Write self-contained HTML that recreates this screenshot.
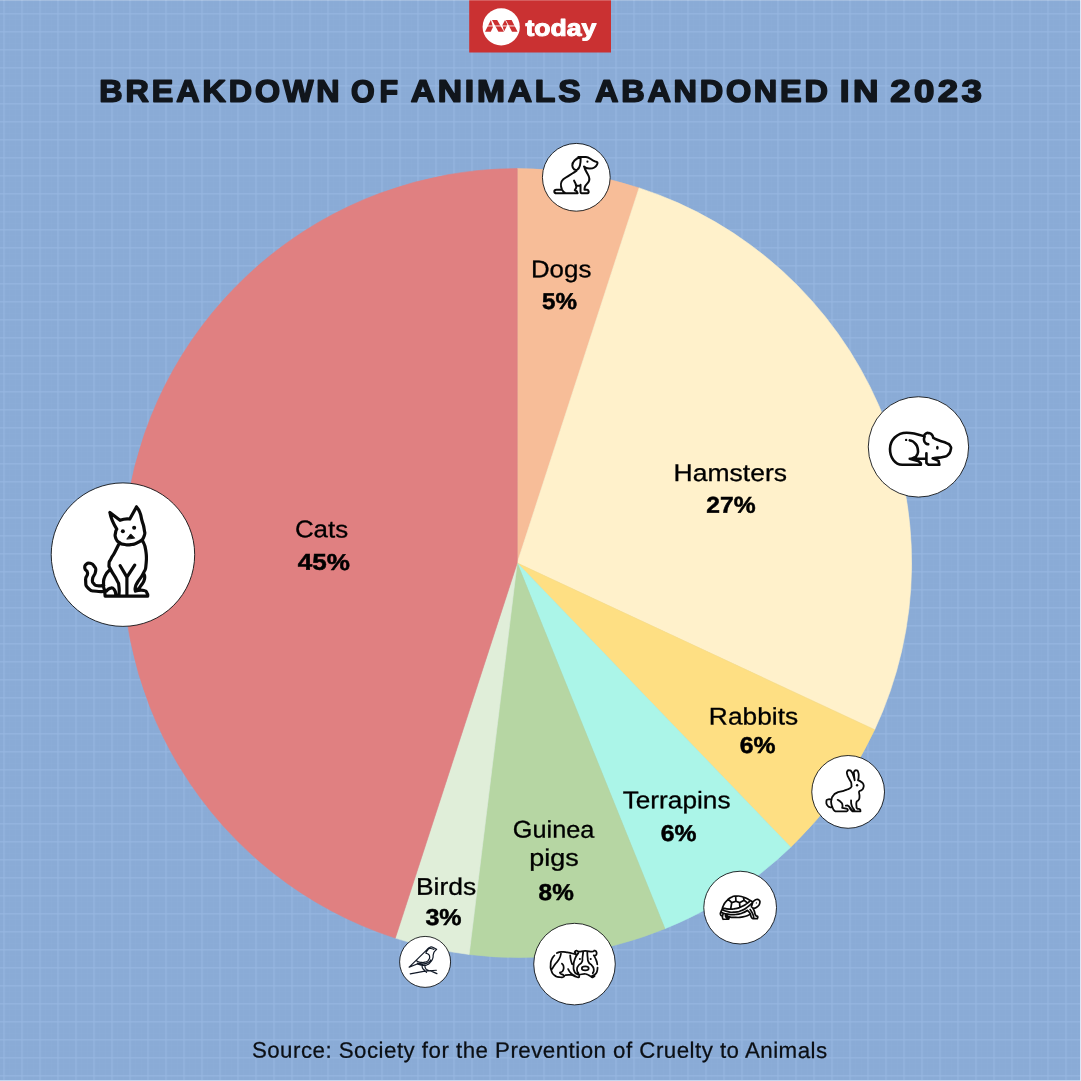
<!DOCTYPE html>
<html lang="en">
<head>
<meta charset="utf-8">
<title>Breakdown of animals abandoned in 2023</title>
<style>
html,body{margin:0;padding:0;background:#8aabd6;}
body{width:1081px;height:1081px;overflow:hidden;position:relative;font-family:"Liberation Sans",sans-serif;}
svg{position:absolute;left:0;top:0;display:block}
text{font-family:"Liberation Sans",sans-serif;fill:#000;text-rendering:geometricPrecision}
.lbl{font-size:24px;stroke:#000;stroke-width:0.3px}
.pct{font-size:23px;font-weight:bold;stroke:#000;stroke-width:0.5px;}
.title{font-size:31.2px;font-weight:bold;fill:#11161c;stroke:#11161c;stroke-width:1.6px;stroke-linejoin:round}
.src{font-size:22.3px;fill:#0b0f14;stroke:#0b0f14;stroke-width:0.25px}
.ic{fill:#fff;stroke:#05070a;stroke-width:0.85}
</style>
</head>
<body>
<svg width="1081" height="1081" viewBox="0 0 1081 1081">
<defs>
<pattern id="grid" x="3.2" y="-5" width="18" height="18" patternUnits="userSpaceOnUse">
<rect width="18" height="18" fill="#8aabd6"/>
<rect x="6.3" y="0" width="0.8" height="18" fill="#8cadd8"/>
<rect x="12.3" y="0" width="0.8" height="18" fill="#8cadd8"/>
<rect x="0" y="6.3" width="18" height="0.8" fill="#8cadd8"/>
<rect x="0" y="12.3" width="18" height="0.8" fill="#8cadd8"/>
<rect x="0" y="0" width="1.6" height="18" fill="#93b3de"/>
<rect x="0" y="0" width="18" height="1.6" fill="#93b3de"/>
<rect x="0" y="0" width="1.6" height="1.6" fill="#96b6e0"/>
</pattern>
</defs>
<rect width="1081" height="1081" fill="url(#grid)"/>
<rect x="0" y="1080" width="1081" height="1" fill="#c4d7f0"/>
<rect x="1080" y="0" width="1" height="1081" fill="#dde8f7"/>
<!-- logo -->
<rect x="469.2" y="0" width="141.8" height="52.5" fill="#ca3132"/>
<circle cx="501.2" cy="26.9" r="18.6" fill="#fff"/>
<polygon points="485.02,31.66 490.77,31.66 492.98,26.98 490.89,20.09" fill="#cb2f30"/>
<polygon points="491.96,19.96 497.15,19.96 503.96,31.66 498.43,31.66" fill="#cb2f30"/>
<polygon points="502.34,25.28 505.06,20.09 507.45,24.85 504.13,31.23" fill="#cb2f30"/>
<polygon points="505.87,19.96 511.62,19.96 517.57,31.66 512.04,31.66" fill="#cb2f30"/>
<rect x="484" y="25.11" width="35" height="1.62" fill="#fff" opacity="0.55"/>
<g transform="matrix(1 0.0005 0 1 0 -0.28)"><text x="525.4" y="35.7" style="font-size:23.2px;font-weight:bold;fill:#fff;stroke:#fff;stroke-width:1px;stroke-linejoin:round" textLength="71" lengthAdjust="spacingAndGlyphs">today</text></g>
<g transform="matrix(1 0.0005 0 1 0 -0.1097)"><text class="title" transform="translate(99.16 101.7) scale(1.034 1)" textLength="232.58" lengthAdjust="spacing">BREAKDOWN</text></g>
<g transform="matrix(1 0.0005 0 1 0 -0.1873)"><text class="title" transform="translate(350.95 101.7) scale(0.974 1)" textLength="48.44" lengthAdjust="spacing">OF</text></g>
<g transform="matrix(1 0.0005 0 1 0 -0.2477)"><text class="title" transform="translate(410.67 101.7) scale(1.078 1)" textLength="157.67" lengthAdjust="spacing">ANIMALS</text></g>
<g transform="matrix(1 0.0005 0 1 0 -0.3556)"><text class="title" transform="translate(595.12 101.7) scale(1.04 1)" textLength="223.77" lengthAdjust="spacing">ABANDONED</text></g>
<g transform="matrix(1 0.0005 0 1 0 -0.4295)"><text class="title" transform="translate(839.70 101.7) scale(1.13 1)" textLength="34.25" lengthAdjust="spacing">IN</text></g>
<g transform="matrix(1 0.0005 0 1 0 -0.4680)"><text class="title" transform="translate(890.27 101.7) scale(1.175 1)" textLength="77.95" lengthAdjust="spacing">2023</text></g>

<!-- pie -->
<path d="M517.2 563.0L517.20 168.60A394.4 394.4 0 0 1 639.08 187.90Z" fill="#f7bd98" stroke="#f7bd98" stroke-width="0.6"/>
<path d="M517.2 563.0L639.08 187.90A394.4 394.4 0 0 1 874.65 729.68Z" fill="#fff1cb" stroke="#fff1cb" stroke-width="0.6"/>
<path d="M517.2 563.0L874.65 729.68A394.4 394.4 0 0 1 790.68 847.19Z" fill="#fedf83" stroke="#fedf83" stroke-width="0.6"/>
<path d="M517.2 563.0L790.68 847.19A394.4 394.4 0 0 1 664.94 928.68Z" fill="#abf5e8" stroke="#abf5e8" stroke-width="0.6"/>
<path d="M517.2 563.0L664.94 928.68A394.4 394.4 0 0 1 469.13 954.46Z" fill="#b6d6a3" stroke="#b6d6a3" stroke-width="0.6"/>
<path d="M517.2 563.0L469.13 954.46A394.4 394.4 0 0 1 395.32 938.10Z" fill="#e0eed9" stroke="#e0eed9" stroke-width="0.6"/>
<path d="M517.2 563.0L395.32 938.10A394.4 394.4 0 0 1 517.20 168.60Z" fill="#e08081" stroke="#e08081" stroke-width="0.6"/>
<!-- labels -->
<g transform="matrix(1 0.0005 0 1 0 -0.2808)"><text class="lbl" x="530.91" y="277.32" textLength="60.48" lengthAdjust="spacingAndGlyphs">Dogs</text></g>
<g transform="matrix(1 0.0005 0 1 0 -0.2798)"><text class="pct" x="542.02" y="309.09" textLength="34.96" lengthAdjust="spacingAndGlyphs">5%</text></g>
<g transform="matrix(1 0.0005 0 1 0 -0.3654)"><text class="lbl" x="673.64" y="480.94" textLength="113.41" lengthAdjust="spacingAndGlyphs">Hamsters</text></g>
<g transform="matrix(1 0.0005 0 1 0 -0.3655)"><text class="pct" x="706.29" y="512.87" textLength="49.35" lengthAdjust="spacingAndGlyphs">27%</text></g>
<g transform="matrix(1 0.0005 0 1 0 -0.3770)"><text class="lbl" x="708.88" y="724.42" textLength="89.27" lengthAdjust="spacingAndGlyphs">Rabbits</text></g>
<g transform="matrix(1 0.0005 0 1 0 -0.3788)"><text class="pct" x="739.68" y="752.95" textLength="35.83" lengthAdjust="spacingAndGlyphs">6%</text></g>
<g transform="matrix(1 0.0005 0 1 0 -0.3382)"><text class="lbl" x="622.65" y="808.31" textLength="107.93" lengthAdjust="spacingAndGlyphs">Terrapins</text></g>
<g transform="matrix(1 0.0005 0 1 0 -0.3394)"><text class="pct" x="660.81" y="840.92" textLength="35.78" lengthAdjust="spacingAndGlyphs">6%</text></g>
<g transform="matrix(1 0.0005 0 1 0 -0.2768)"><text class="lbl" x="512.85" y="837.64" textLength="81.47" lengthAdjust="spacingAndGlyphs">Guinea</text></g>
<g transform="matrix(1 0.0005 0 1 0 -0.2772)"><text class="lbl" x="529.29" y="865.68" textLength="49.55" lengthAdjust="spacingAndGlyphs">pigs</text></g>
<g transform="matrix(1 0.0005 0 1 0 -0.2782)"><text class="pct" x="538.64" y="899.91" textLength="35.12" lengthAdjust="spacingAndGlyphs">8%</text></g>
<g transform="matrix(1 0.0005 0 1 0 -0.2233)"><text class="lbl" x="415.96" y="894.65" textLength="60.30" lengthAdjust="spacingAndGlyphs">Birds</text></g>
<g transform="matrix(1 0.0005 0 1 0 -0.2217)"><text class="pct" x="425.42" y="925.09" textLength="36.20" lengthAdjust="spacingAndGlyphs">3%</text></g>
<g transform="matrix(1 0.0005 0 1 0 -0.1609)"><text class="lbl" x="294.90" y="537.39" textLength="53.27" lengthAdjust="spacingAndGlyphs">Cats</text></g>
<g transform="matrix(1 0.0005 0 1 0 -0.1618)"><text class="pct" x="297.72" y="569.88" textLength="52.19" lengthAdjust="spacingAndGlyphs">45%</text></g>
<!-- icon circles -->
<circle class="ic" cx="576.3" cy="177.3" r="33.88"/>
<circle class="ic" cx="918.45" cy="446.9" r="50.18"/>
<circle class="ic" cx="848.15" cy="791.9" r="36.38"/>
<circle class="ic" cx="740.15" cy="907.6" r="36.38"/>
<circle class="ic" cx="574.5" cy="964.1" r="40.78"/>
<circle class="ic" cx="425.1" cy="961.9" r="25.48"/>
<circle class="ic" cx="122.95" cy="554.65" r="71.73"/>
<g transform="translate(540 142) scale(0.06662)" fill="none" stroke="#0a0a0a" stroke-width="30.0" stroke-linecap="round" stroke-linejoin="round"><path d="M575 225L690 225C740 225 770 275 830 292C860 298 872 310 858 335C835 385 790 400 740 398C700 396 675 385 660 368M600 228C540 245 480 300 485 355C490 410 530 430 560 415C600 390 612 330 610 235M665 375C675 420 690 440 715 480C745 530 750 570 725 605C705 635 680 645 672 680C668 700 668 715 668 718L710 718C735 718 738 770 715 770L625 770C610 770 608 755 608 740L608 640M548 656L608 656M512 580C530 610 545 640 545 670C545 700 520 715 522 725C540 730 560 745 565 770M548 432C500 470 400 520 350 560C310 595 305 660 330 715C345 745 365 765 385 770L565 770M330 715L245 715C205 715 205 770 245 770L385 770"/><circle cx="712" cy="295" r="16" fill="#0a0a0a" stroke="none"/></g>
<g transform="translate(880 412) scale(0.07401)" fill="none" stroke="#0a0a0a" stroke-width="35.1" stroke-linecap="round" stroke-linejoin="round"><path d="M552 712L300 712C200 712 135 612 135 500C135 380 230 280 360 280C440 280 520 303 592 326M590.0 325.0C600.0 314.0 596.7 305.3 620.0 292.0C643.3 278.7 633.3 280.7 660.0 285.0C686.7 289.3 680.0 283.3 700.0 305.0C720.0 326.7 713.3 335.0 720.0 350.0M603.0 330.0C600.3 346.7 590.0 349.3 595.0 380.0C600.0 410.7 599.0 403.3 618.0 422.0C637.0 440.7 640.7 431.3 652.0 436.0M720.0 350.0C746.7 361.7 740.0 361.7 800.0 385.0C860.0 408.3 850.7 395.7 900.0 420.0C949.3 444.3 929.7 428.0 948.0 458.0C966.3 488.0 964.3 470.0 955.0 510.0C945.7 550.0 955.0 545.3 920.0 578.0C885.0 610.7 903.3 594.0 850.0 608.0C796.7 622.0 806.0 613.7 760.0 620.0C714.0 626.3 728.0 624.7 712.0 627.0M712.0 627.0L790.0 660.0L802.0 712.0L655.0 712.0L627.0 690.0L627.0 557.0M402.0 383.0C424.7 395.3 434.0 381.0 470.0 420.0C506.0 459.0 500.0 446.7 510.0 500.0C520.0 553.3 519.3 540.0 500.0 580.0C480.7 620.0 484.7 602.7 452.0 620.0C419.3 637.3 418.7 628.0 402.0 632.0M402.0 632.0L627.0 632.0M402.0 632.0L522.0 665.0L552.0 692.0L552.0 712.0"/><circle cx="353" cy="377" r="16" fill="#0a0a0a" stroke="none"/><ellipse cx="775" cy="483" rx="18" ry="26" fill="#0a0a0a" stroke="none"/></g>
<g transform="translate(815 758) scale(0.06013)" fill="none" stroke="#0a0a0a" stroke-width="29.9" stroke-linecap="round" stroke-linejoin="round"><path d="M600.0 400.0C586.7 376.7 581.7 373.3 560.0 330.0C538.3 286.7 542.7 306.7 535.0 270.0C527.3 233.3 524.7 241.7 537.0 220.0C549.3 198.3 547.7 201.0 572.0 205.0C596.3 209.0 587.3 200.3 610.0 232.0C632.7 263.7 623.3 254.0 640.0 300.0C656.7 346.0 653.3 346.7 660.0 370.0M660.0 370.0C656.7 340.0 652.7 328.3 650.0 280.0C647.3 231.7 638.7 250.0 652.0 225.0C665.3 200.0 667.3 200.0 690.0 205.0C712.7 210.0 708.0 205.0 720.0 240.0C732.0 275.0 727.7 266.7 726.0 310.0C724.3 353.3 718.7 350.0 715.0 370.0M715.0 370.0C733.3 380.0 740.0 376.7 770.0 400.0C800.0 423.3 793.3 410.0 805.0 440.0C816.7 470.0 813.3 460.0 805.0 490.0C796.7 520.0 801.7 510.0 780.0 530.0C758.3 550.0 756.0 533.3 740.0 550.0C724.0 566.7 734.7 570.0 732.0 580.0M600.0 400.0C602.0 416.7 607.7 419.3 606.0 450.0C604.3 480.7 623.7 465.3 595.0 492.0C566.3 518.7 571.7 509.0 520.0 530.0C468.3 551.0 493.3 538.3 440.0 555.0C386.7 571.7 406.7 555.0 360.0 580.0C313.3 605.0 328.3 593.3 300.0 630.0C271.7 666.7 285.0 650.0 275.0 690.0C265.0 730.0 265.0 706.7 270.0 750.0C275.0 793.3 274.0 779.3 290.0 820.0C306.0 860.7 300.7 850.0 318.0 872.0C335.3 894.0 334.0 881.3 342.0 886.0M342.0 886.0L528.0 886.0M528.0 886.0C534.0 879.3 548.0 880.7 546.0 866.0C544.0 851.3 553.3 854.0 522.0 842.0C490.7 830.0 475.3 834.0 452.0 830.0M452.0 830.0C453.3 813.3 463.3 812.7 456.0 780.0C448.7 747.3 456.3 760.0 430.0 732.0C403.7 704.0 394.7 708.0 377.0 696.0M270.0 690.0C250.7 690.0 238.7 679.3 212.0 690.0C185.3 700.7 194.0 692.0 190.0 722.0C186.0 752.0 183.3 749.3 200.0 780.0C216.7 810.7 212.0 800.7 240.0 814.0C268.0 827.3 269.3 818.0 284.0 820.0M732.0 580.0C734.7 603.3 743.3 610.0 740.0 650.0C736.7 690.0 738.0 673.3 722.0 700.0C706.0 726.7 702.7 696.7 692.0 730.0C681.3 763.3 686.7 763.3 690.0 800.0C693.3 836.7 683.7 822.7 702.0 840.0C720.3 857.3 727.0 836.7 745.0 852.0C763.0 867.3 752.3 874.7 756.0 886.0M756.0 886.0L622.0 886.0M622.0 886.0C611.3 874.0 610.7 878.7 590.0 850.0C569.3 821.3 586.0 819.3 560.0 800.0C534.0 780.7 528.0 794.7 512.0 792.0M600.0 705.0C603.3 733.3 593.3 738.3 610.0 790.0C626.7 841.7 632.7 828.7 650.0 860.0C667.3 891.3 658.0 876.0 662.0 884.0M560.0 800.0C573.3 816.7 576.7 822.0 600.0 850.0C623.3 878.0 620.0 872.7 630.0 884.0"/><circle cx="700" cy="452" r="20" fill="#0a0a0a" stroke="none"/></g>
<g transform="translate(708 875) scale(0.06013)" fill="none" stroke="#0a0a0a" stroke-width="28.3" stroke-linecap="round" stroke-linejoin="round"><path d="M235.0 572.0C243.3 548.0 231.7 550.7 260.0 500.0C288.3 449.3 273.3 464.7 320.0 420.0C366.7 375.3 346.7 389.3 400.0 366.0C453.3 342.7 420.0 350.3 480.0 350.0C540.0 349.7 513.3 345.0 580.0 365.0C646.7 385.0 625.0 381.7 680.0 410.0C735.0 438.3 723.3 436.7 745.0 450.0M235.0 577.0C266.7 588.0 258.3 597.0 330.0 610.0C401.7 623.0 373.3 622.7 450.0 616.0C526.7 609.3 490.0 618.7 560.0 590.0C630.0 561.3 598.3 576.0 660.0 530.0C721.7 484.0 716.7 478.0 745.0 452.0M220.0 622.0C256.7 632.0 250.0 640.3 330.0 652.0C410.0 663.7 380.0 663.7 460.0 657.0C540.0 650.3 506.0 654.3 570.0 632.0C634.0 609.7 624.7 604.0 652.0 590.0M235.0 572.0C228.3 585.3 224.3 584.3 215.0 612.0C205.7 639.7 201.3 631.7 207.0 655.0C212.7 678.3 223.7 673.0 232.0 682.0M252.0 550.0C284.7 555.3 284.0 562.7 350.0 566.0C416.0 569.3 383.3 572.0 450.0 560.0C516.7 548.0 486.7 556.7 550.0 530.0C613.3 503.3 590.0 513.3 640.0 480.0C690.0 446.7 680.0 446.7 700.0 430.0M395.0 460.0L465.0 436.0L525.0 460.0L530.0 535.0M395.0 460.0L378.0 560.0M465.0 436.0L460.0 358.0M395.0 460.0L357.0 422.0L330.0 416.0M525.0 460.0L600.0 420.0L590.0 380.0M600.0 420.0L650.0 460.0M745.0 450.0C756.7 440.0 755.0 435.0 780.0 420.0C805.0 405.0 795.0 403.3 820.0 405.0C845.0 406.7 841.7 403.3 855.0 425.0C868.3 446.7 868.3 438.3 860.0 470.0C851.7 501.7 856.7 493.3 830.0 520.0C803.3 546.7 809.3 541.3 780.0 550.0C750.7 558.7 754.7 547.3 742.0 546.0M745.0 455.0L722.0 530.0M660.0 592.0C673.3 608.0 680.0 604.0 700.0 640.0C720.0 676.0 703.3 671.3 720.0 700.0C736.7 728.7 740.0 717.3 750.0 726.0M750.0 726.0L820.0 726.0M820.0 726.0C822.0 714.0 835.3 708.7 826.0 690.0C816.7 671.3 810.7 700.0 792.0 670.0C773.3 640.0 785.7 640.0 770.0 600.0C754.3 560.0 753.3 566.7 745.0 550.0M700.0 572.0C713.3 594.7 720.0 597.3 740.0 640.0C760.0 682.7 753.3 680.0 760.0 700.0M250.0 650.0C246.7 666.7 239.3 671.3 240.0 700.0C240.7 728.7 248.0 724.0 252.0 736.0M252.0 736.0L340.0 736.0M340.0 736.0C341.7 729.3 358.3 728.0 345.0 716.0C331.7 704.0 318.3 721.3 300.0 700.0C281.7 678.7 293.3 668.0 290.0 652.0M312.0 662.0C324.7 673.0 300.7 680.3 350.0 695.0C399.3 709.7 383.3 705.7 460.0 706.0C536.7 706.3 503.3 710.7 580.0 696.0C656.7 681.3 653.3 673.3 690.0 662.0"/><circle cx="805" cy="465" r="11" fill="#0a0a0a" stroke="none"/></g>
<g transform="translate(538 928) scale(0.06846)" fill="none" stroke="#0a0a0a" stroke-width="25.6" stroke-linecap="round" stroke-linejoin="round"><path d="M240.0 400.0C226.7 420.0 218.3 413.3 200.0 460.0C181.7 506.7 186.7 486.7 185.0 540.0C183.3 593.3 176.7 570.0 195.0 620.0C213.3 670.0 201.7 658.0 240.0 690.0C278.3 722.0 266.7 707.3 310.0 716.0C353.3 724.7 340.0 724.7 370.0 716.0C400.0 707.3 363.3 700.0 400.0 690.0C436.7 680.0 433.3 680.7 480.0 686.0C526.7 691.3 503.3 694.7 540.0 706.0C576.7 717.3 569.3 722.0 590.0 720.0C610.7 718.0 598.0 706.7 602.0 700.0M275.0 365.0C296.7 360.0 288.3 353.3 340.0 350.0C391.7 346.7 366.7 345.0 430.0 355.0C493.3 365.0 496.7 371.7 530.0 380.0M335.0 375.0C326.7 400.0 338.3 398.3 310.0 450.0C281.7 501.7 285.0 480.0 250.0 530.0C215.0 580.0 220.0 576.7 205.0 600.0M470.0 400.0C473.3 423.3 470.0 426.7 480.0 470.0C490.0 513.3 493.3 510.0 500.0 530.0M535.0 352.0C543.3 344.7 538.3 332.3 560.0 330.0C581.7 327.7 556.7 343.3 600.0 345.0C643.3 346.7 626.7 335.0 690.0 335.0C753.3 335.0 743.3 346.7 790.0 345.0C836.7 343.3 808.0 325.0 830.0 330.0C852.0 335.0 850.7 338.0 856.0 360.0C861.3 382.0 859.7 382.7 846.0 396.0C832.3 409.3 825.3 398.7 815.0 400.0M545.0 355.0C550.0 368.3 545.0 391.7 560.0 395.0C575.0 398.3 580.0 375.0 590.0 365.0M590.0 365.0C573.3 393.3 563.3 388.3 540.0 450.0C516.7 511.7 523.3 490.0 520.0 550.0C516.7 610.0 516.0 590.0 530.0 630.0C544.0 670.0 551.3 656.7 562.0 670.0M815.0 400.0C826.7 423.3 833.0 426.7 850.0 470.0C867.0 513.3 860.7 510.0 866.0 530.0M870.0 580.0C866.7 600.0 873.3 606.0 860.0 640.0C846.7 674.0 850.0 655.3 830.0 682.0C810.0 708.7 823.3 714.0 800.0 720.0C776.7 726.0 786.7 713.3 760.0 700.0C733.3 686.7 746.7 690.0 720.0 680.0C693.3 670.0 720.0 670.0 680.0 670.0C640.0 670.0 636.7 681.3 600.0 680.0C563.3 678.7 580.0 670.7 570.0 666.0M660.0 350.0C656.7 376.7 656.7 380.0 650.0 430.0C643.3 480.0 660.0 460.0 640.0 500.0C620.0 540.0 613.3 513.3 590.0 550.0C566.7 586.7 570.0 573.3 570.0 610.0C570.0 646.7 583.3 643.3 590.0 660.0M720.0 350.0C721.7 376.7 718.3 380.0 725.0 430.0C731.7 480.0 718.3 460.0 740.0 500.0C761.7 540.0 765.0 513.3 790.0 550.0C815.0 586.7 811.7 573.3 815.0 610.0C818.3 646.7 805.0 643.3 800.0 660.0M640 590A50 28 0 1 0 740 590A50 28 0 1 0 640 590M350.0 520.0C358.3 536.7 371.7 533.3 375.0 570.0C378.3 606.7 378.3 601.3 360.0 630.0C341.7 658.7 316.7 637.3 320.0 656.0C323.3 674.7 353.3 676.0 370.0 686.0M440.0 600.0C453.3 620.0 446.7 626.7 480.0 660.0C513.3 693.3 520.0 686.7 540.0 700.0M790.0 700.0C798.3 696.7 803.3 688.3 815.0 690.0C826.7 691.7 821.7 700.0 825.0 705.0"/><circle cx="612" cy="452" r="15" fill="#0a0a0a" stroke="none"/><circle cx="770" cy="452" r="15" fill="#0a0a0a" stroke="none"/></g>
<g transform="translate(397 934) scale(0.05181)" fill="none" stroke="#101826" stroke-width="23.2" stroke-linecap="round" stroke-linejoin="round"><path d="M235.0 640.0C300.0 576.0 483.0 394.6 560.0 320.0C637.0 245.4 600.0 281.0 620.0 267.0C640.0 253.0 642.0 250.4 660.0 250.0C678.0 249.6 689.0 256.0 710.0 265.0C731.0 274.0 754.0 289.0 765.0 295.0M765.0 295.0C756.7 304.0 755.0 306.3 740.0 322.0C725.0 337.7 733.3 316.0 720.0 342.0C706.7 368.0 710.0 357.3 700.0 400.0C690.0 442.7 706.7 423.3 690.0 470.0C673.3 516.7 683.3 500.0 650.0 540.0C616.7 580.0 630.0 568.3 590.0 590.0C550.0 611.7 576.7 603.0 530.0 605.0C483.3 607.0 496.7 604.3 450.0 596.0C403.3 587.7 410.0 585.3 390.0 580.0M390.0 580.0L235.0 640.0M380.0 520.0C406.7 528.7 403.3 539.3 460.0 546.0C516.7 552.7 500.0 555.3 550.0 540.0C600.0 524.7 583.3 533.3 610.0 500.0C636.7 466.7 631.7 476.7 630.0 440.0C628.3 403.3 628.3 411.7 605.0 390.0C581.7 368.3 575.0 380.0 560.0 375.0M392.0 560.0C428.0 565.3 430.7 579.3 500.0 576.0C569.3 572.7 549.3 575.3 600.0 550.0C650.7 524.7 634.7 516.7 652.0 500.0M560.0 360.0C573.3 340.0 570.0 326.7 600.0 300.0C630.0 273.3 612.7 281.3 650.0 280.0C687.3 278.7 691.3 290.7 712.0 296.0M490.0 600.0C490.0 616.7 476.7 616.7 490.0 650.0C503.3 683.3 503.3 670.0 530.0 700.0C556.7 730.0 556.7 726.7 570.0 740.0M540.0 600.0C543.3 620.0 530.0 626.7 550.0 660.0C570.0 693.3 556.7 682.7 600.0 700.0C643.3 717.3 653.3 708.0 680.0 712.0M255.0 770.0L540.0 716.0L760.0 700.0M640.0 706.0L770.0 765.0"/></g>
<g transform="translate(70 495) scale(0.10638)" fill="none" stroke="#0a0a0a" stroke-width="30.1" stroke-linecap="round" stroke-linejoin="round"><path d="M375 165L470 238C500 226 530 220 562 226L625 112M625.0 112.0C635.0 128.0 638.3 119.0 655.0 160.0C671.7 201.0 661.0 181.7 675.0 235.0C689.0 288.3 690.3 268.3 697.0 320.0C703.7 371.7 710.7 350.0 695.0 390.0C679.3 430.0 688.3 415.0 650.0 440.0C611.7 465.0 625.0 456.7 580.0 465.0C535.0 473.3 553.3 470.7 515.0 465.0C476.7 459.3 493.3 468.0 465.0 448.0C436.7 428.0 442.3 436.0 430.0 405.0C417.7 374.0 424.7 383.3 428.0 355.0C431.3 326.7 436.0 331.7 440.0 320.0C420 290 385 220 375 165M455.0 470.0C443.3 493.3 443.3 496.7 420.0 540.0C396.7 583.3 402.7 563.3 385.0 600.0C367.3 636.7 367.0 615.0 367.0 650.0C367.0 685.0 360.7 655.0 385.0 705.0C409.3 755.0 415.0 748.3 440.0 800.0C465.0 851.7 453.3 811.7 460.0 860.0C466.7 908.3 460.0 916.7 460.0 945.0M685.0 435.0C694.0 463.3 702.0 448.3 712.0 520.0C722.0 591.7 722.3 578.3 715.0 650.0C707.7 721.7 715.0 681.0 690.0 735.0C665.0 789.0 665.0 768.7 640.0 812.0C615.0 855.3 623.3 834.0 615.0 865.0C606.7 896.0 615.0 891.7 615.0 905.0M472.0 665.0L535.0 772.0L608.0 660.0M535.0 772.0L535.0 945.0M330.0 950.0L730.0 950.0M378.0 700.0C362.0 720.0 351.0 713.3 330.0 760.0C309.0 806.7 316.7 793.3 315.0 840.0C313.3 886.7 320.0 863.3 325.0 900.0C330.0 936.7 328.3 933.3 330.0 950.0M340.0 905.0C351.7 896.0 350.0 883.7 375.0 878.0C400.0 872.3 396.0 865.7 415.0 888.0C434.0 910.3 426.3 926.0 432.0 945.0M692.0 735.0C694.7 753.3 709.0 750.0 700.0 790.0C691.0 830.0 688.3 820.0 665.0 855.0C641.7 890.0 641.7 881.7 630.0 895.0M620.0 900.0C645.0 899.3 660.0 889.7 695.0 898.0C730.0 906.3 713.3 907.7 725.0 925.0C736.7 942.3 728.3 941.7 730.0 950.0M330.0 905.0C303.3 905.0 301.7 913.3 250.0 905.0C198.3 896.7 209.3 915.0 175.0 880.0C140.7 845.0 150.3 848.3 147.0 800.0C143.7 751.7 167.3 771.7 165.0 735.0C162.7 698.3 144.3 717.7 140.0 690.0C135.7 662.3 135.3 668.0 152.0 652.0C168.7 636.0 164.7 636.0 190.0 642.0C215.3 648.0 211.3 644.0 228.0 670.0C244.7 696.0 245.3 680.0 240.0 720.0C234.7 760.0 217.0 751.7 212.0 790.0C207.0 828.3 208.3 814.0 225.0 835.0C241.7 856.0 231.0 848.0 262.0 853.0C293.0 858.0 299.3 851.0 318.0 850.0"/><circle cx="497" cy="340" r="19" fill="#0a0a0a" stroke="none"/><circle cx="603" cy="308" r="19" fill="#0a0a0a" stroke="none"/><path d="M536 412L570 366L606 403Z" fill="#0a0a0a" stroke="#0a0a0a" stroke-width="9" stroke-linejoin="round"/></g>
<g transform="matrix(1 0.0005 0 1 0 -0.2700)"><text class="src" x="251.9" y="1057.75" textLength="575.2" lengthAdjust="spacing">Source: Society for the Prevention of Cruelty to Animals</text></g>
<rect x="0" y="0" width="1081" height="1" fill="#fff" opacity="0.22"/>
</svg>
</body>
</html>
